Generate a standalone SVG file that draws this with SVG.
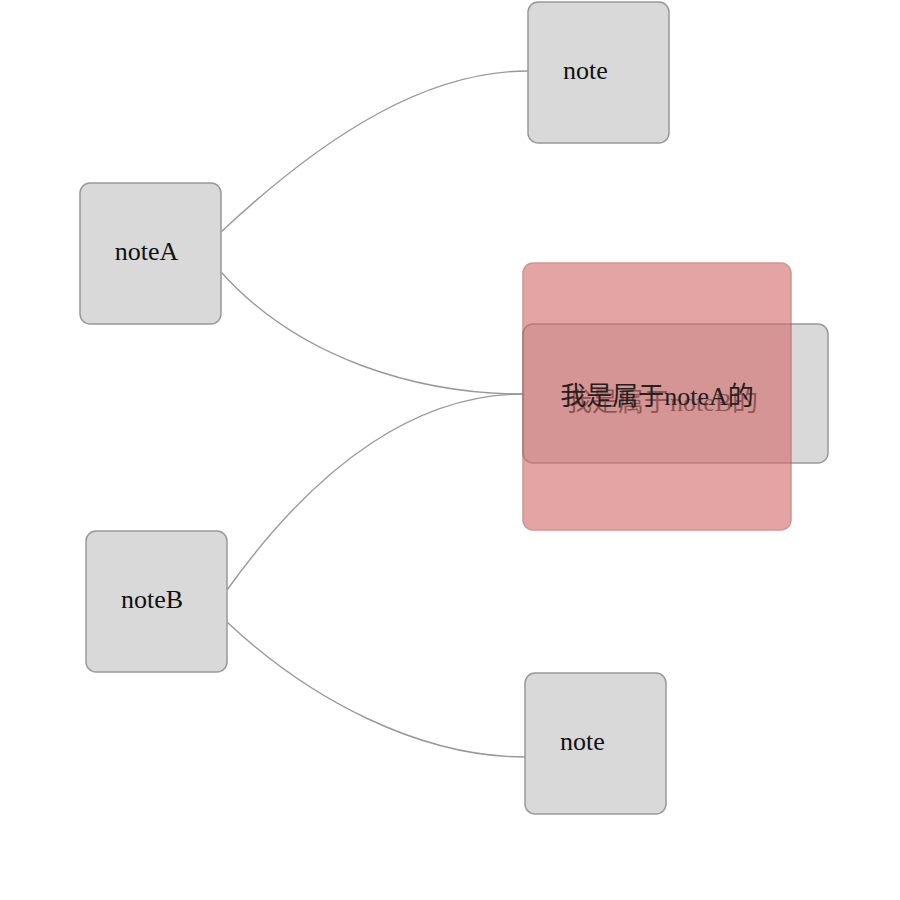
<svg xmlns="http://www.w3.org/2000/svg" width="900" height="900" viewBox="0 0 900 900">
<style>
.node rect{fill:#d9d9d9;stroke:#999;stroke-width:1.5}
.lbl{font-family:"Liberation Serif","Noto Sans CJK SC",serif;font-size:26px;fill:#111;text-anchor:middle}
.edges path{fill:none;stroke:#999;stroke-width:1.4}
</style>
<rect width="900" height="900" fill="#fff"/>
<g class="edges" id="connectors">
<path d="M221,232 C330,130 430,71 528,71"/>
<path d="M221,272 C300,360 420,394 523,394"/>
<path d="M227,590 C320,460 420,394 523,394"/>
<path d="M227,622 C310,700 420,757 525,757"/>
</g>
<g class="node" id="noteA"><rect x="80" y="183" width="141" height="141" rx="10"/><text class="lbl" x="146.5" y="260">noteA</text></g>
<g class="node" id="noteTop"><rect x="528" y="2" width="141" height="141" rx="10"/><text class="lbl" x="585.5" y="79">note</text></g>
<g class="node" id="noteB"><rect x="86" y="531" width="141" height="141" rx="10"/><text class="lbl" x="152" y="608">noteB</text></g>
<g class="node" id="noteBottom"><rect x="525" y="673" width="141" height="141" rx="10"/><text class="lbl" x="582.5" y="750">note</text></g>
<g class="node" id="sharedB"><rect x="523" y="324" width="305" height="139" rx="10"/><text class="lbl" x="662" y="411" style="fill:#333">我是属于noteB的</text></g>
<g id="sharedA"><rect x="523" y="263" width="268" height="267" rx="10" fill="rgb(212,105,105)" stroke="rgb(180,80,80)" stroke-width="1.5" opacity="0.6"/><text class="lbl" x="657" y="405" style="fill:#222">我是属于noteA的</text></g>
</svg>
